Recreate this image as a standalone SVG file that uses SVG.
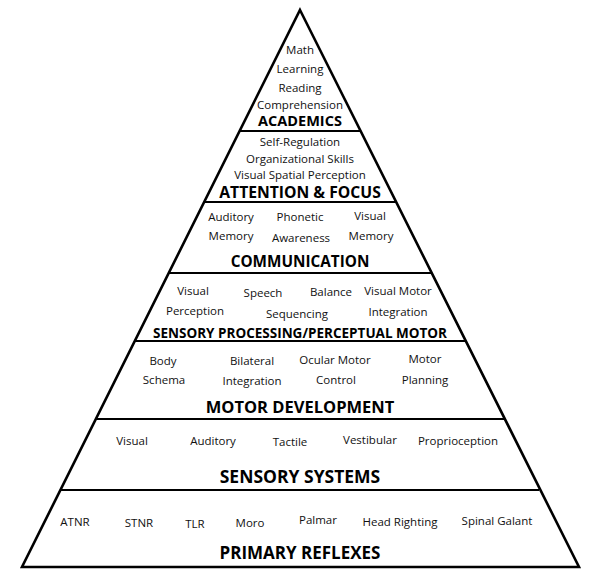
<svg xmlns="http://www.w3.org/2000/svg" width="596" height="578" viewBox="0 0 596 578">
<style>
.s{font-family:"Open Sans","Liberation Sans",sans-serif;font-size:11.5px;fill:#111;text-anchor:middle;dominant-baseline:central}
.t{font-family:"Open Sans","Liberation Sans",sans-serif;font-weight:bold;font-size:14.5px;fill:#000;text-anchor:middle;dominant-baseline:central}
.sep{stroke:#000;stroke-width:2}
</style>
<rect width="596" height="578" fill="#fff"/>
<g id="outline">
<polygon points="300,10 579,567 22,567" fill="none" stroke="#000" stroke-width="2.6" stroke-linejoin="miter"/>
<line class="sep" x1="239" y1="131" x2="361" y2="131"/>
<line class="sep" x1="204" y1="202" x2="396" y2="202"/>
<line class="sep" x1="169" y1="273" x2="431" y2="273"/>
<line class="sep" x1="135" y1="341" x2="465" y2="341"/>
<line class="sep" x1="96" y1="419" x2="504" y2="419"/>
<line class="sep" x1="61" y1="490" x2="539" y2="490"/>
</g>
<g id="academics">
<text class="s" x="300" y="49">Math</text>
<text class="s" x="300" y="68">Learning</text>
<text class="s" x="300" y="87">Reading</text>
<text class="s" x="300" y="104">Comprehension</text>
<text class="t" x="300" y="120">ACADEMICS</text>
</g>
<g id="attention">
<text class="s" x="300" y="141">Self-Regulation</text>
<text class="s" x="300" y="158">Organizational Skills</text>
<text class="s" x="300" y="174">Visual Spatial Perception</text>
<text class="t" x="300" y="192" style="font-size:15.7px">ATTENTION &amp; FOCUS</text>
</g>
<g id="communication">
<text class="s" x="231" y="216">Auditory</text>
<text class="s" x="231" y="235">Memory</text>
<text class="s" x="300" y="216">Phonetic</text>
<text class="s" x="301" y="237">Awareness</text>
<text class="s" x="370" y="215">Visual</text>
<text class="s" x="371" y="235">Memory</text>
<text class="t" x="300" y="261" style="font-size:15.3px">COMMUNICATION</text>
</g>
<g id="sensory-processing">
<text class="s" x="193" y="290">Visual</text>
<text class="s" x="195" y="310">Perception</text>
<text class="s" x="263" y="292">Speech</text>
<text class="s" x="297" y="313">Sequencing</text>
<text class="s" x="331" y="291">Balance</text>
<text class="s" x="398" y="290">Visual Motor</text>
<text class="s" x="398" y="311">Integration</text>
<text class="t" x="300" y="333" style="font-size:13.5px">SENSORY PROCESSING/PERCEPTUAL MOTOR</text>
</g>
<g id="motor-development">
<text class="s" x="163" y="360">Body</text>
<text class="s" x="164" y="379">Schema</text>
<text class="s" x="252" y="360">Bilateral</text>
<text class="s" x="252" y="380">Integration</text>
<text class="s" x="335" y="359">Ocular Motor</text>
<text class="s" x="336" y="379">Control</text>
<text class="s" x="425" y="358">Motor</text>
<text class="s" x="425" y="379">Planning</text>
<text class="t" x="300" y="406" style="font-size:16.5px">MOTOR DEVELOPMENT</text>
</g>
<g id="sensory-systems">
<text class="s" x="132" y="440">Visual</text>
<text class="s" x="213" y="440">Auditory</text>
<text class="s" x="290" y="441">Tactile</text>
<text class="s" x="370" y="439">Vestibular</text>
<text class="s" x="458" y="440">Proprioception</text>
<text class="t" x="300" y="476" style="font-size:17.5px">SENSORY SYSTEMS</text>
</g>
<g id="primary-reflexes">
<text class="s" x="75" y="521">ATNR</text>
<text class="s" x="139" y="522">STNR</text>
<text class="s" x="195" y="523">TLR</text>
<text class="s" x="250" y="522">Moro</text>
<text class="s" x="318" y="519">Palmar</text>
<text class="s" x="400" y="521">Head Righting</text>
<text class="s" x="497" y="520">Spinal Galant</text>
<text class="t" x="300" y="552" style="font-size:17px">PRIMARY REFLEXES</text>
</g>
</svg>
